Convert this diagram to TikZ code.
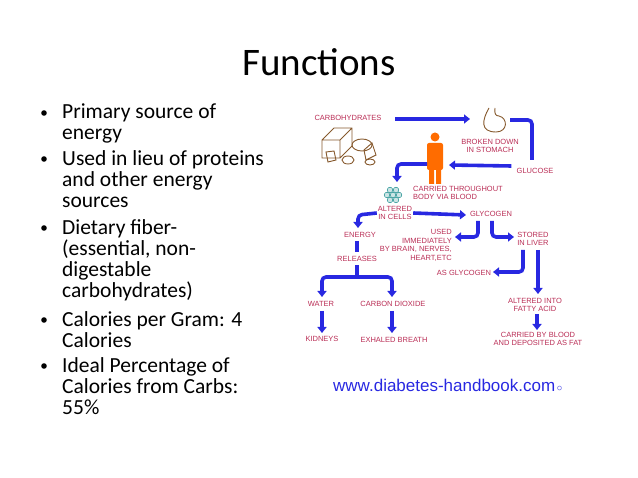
\documentclass[tikz,border=0pt]{standalone}
\usepackage{fontspec}
\setmainfont{Carlito}
\newfontfamily\arial{Liberation Sans}
\usetikzlibrary{arrows.meta}
\definecolor{lab}{RGB}{185,45,85}
\definecolor{arr}{RGB}{40,40,225}
\tikzset{
 lbl/.style={font=\arial\fontsize{7.5}{8.6}\selectfont, text=lab, align=center, inner sep=1pt},
 flow/.style={draw=arr, line width=3.6pt, -{Triangle[length=6pt,width=9pt]}, rounded corners=4pt},
 bar/.style={draw=arr, line width=3.6pt, rounded corners=4pt},
 bul/.style={font=\fontsize{21.5}{21}\selectfont, align=left, inner sep=0pt},
}
\begin{document}
\begin{tikzpicture}[x=1pt,y=-1pt]
\useasboundingbox (0,0) rectangle (638,478);
\node[font=\fontsize{39}{44}\selectfont] (title) at (319,62) {Functions};
\foreach \y/\t in {113/{Primary source of\\energy},159/{Used in lieu of proteins\\and other energy\\sources},228/{Dietary fiber-\\(essential, non-\\digestable\\carbohydrates)},320/{Calories per Gram: 4\\Calories},366/{Ideal Percentage of\\Calories from Carbs:\\55\%}}{
 \node[bul, anchor=north west] at (62,\y-9) {\t};
 \fill (44,\y) circle (2.8);
}
% pictures
\begin{scope}[draw=brown!70!black, line width=0.9pt]
\draw (322,140) -- (334,128) -- (352,128) -- (352,146) -- (340,158) -- (322,158) -- cycle (322,140) -- (340,140) -- (352,128) (340,140) -- (340,158);
\draw (362,145) ellipse (10 and 6); \draw (364,150) -- (372,143) -- (376,155) -- (366,160)--cycle;
\draw (326,152) -- (334,151) -- (336,160) -- (328,162) -- cycle; \draw (348,160) ellipse (6 and 4); \draw (370,162) ellipse (5 and 3);
\draw (489,108) .. controls (482,120) and (480,132) .. (496,132) .. controls (508,132) and (508,118) .. (499,116) .. controls (496,116) and (494,114) .. (495,108);
\end{scope}
\fill[orange!85!red] (435,137) circle (4.5);
\fill[orange!85!red, rounded corners=2pt] (427,143) rectangle (443,170);
\fill[orange!85!red] (429,168) rectangle (434,184) (436,168) rectangle (441,184);
\foreach \dx/\dy in {0/0,6/0,-6/0,3/5,-3/5,3/-5,-3/-5}
  \draw[teal, fill=teal!20] (393+\dx,195+\dy) circle (2.8);
% labels
\node[lbl] (carb) at (348,118) {CARBOHYDRATES};
\coordinate (stom) at (490,122);
\node[lbl] (broken) at (490,146) {BROKEN DOWN\\IN STOMACH};
\node[lbl] (glucose) at (535,171) {GLUCOSE};
\coordinate (person) at (435,163);
\node[lbl, align=left, anchor=west] (carried) at (412,193) {CARRIED THROUGHOUT\\BODY VIA BLOOD};
\node[lbl] (altered) at (395,213) {ALTERED\\IN CELLS};
\node[lbl] (glyc) at (491,214) {GLYCOGEN};
\node[lbl] (energy) at (360,235) {ENERGY};
\node[lbl] (releases) at (357,259) {RELEASES};
\node[lbl, align=right, anchor=north east] (used) at (453,228) {USED\\IMMEDIATELY\\BY BRAIN, NERVES,\\HEART,ETC};
\node[lbl] (liver) at (533,239) {STORED\\IN LIVER};
\node[lbl] (asgly) at (464,273) {AS GLYCOGEN};
\node[lbl] (water) at (321,304) {WATER};
\node[lbl] (co2) at (393,304) {CARBON DIOXIDE};
\node[lbl] (fatty) at (535,305) {ALTERED INTO\\FATTY ACID};
\node[lbl] (kid) at (322,339) {KIDNEYS};
\node[lbl] (exh) at (394,340) {EXHALED BREATH};
\node[lbl] (dep) at (538,339) {CARRIED BY BLOOD\\AND DEPOSITED AS FAT};
\node[font=\arial\fontsize{17}{19}\selectfont, text=arr, anchor=west, inner sep=0pt] (url) at (333,385) {www.diabetes-handbook.com};
\draw[arr!60, line width=0.6pt] (url.east) ++(4,3) circle (2);
% arrows
\draw[flow] (395,119) -- (470,119);
\draw[bar] (510,120) -- (532,120) -- (532,160);
\draw[flow] (glucose.west) ++(-4,-5) -- (449,165);
\draw[flow] (427,164) -- (397,164) -- (397,182);
\draw[flow] (altered.east) -- (466,215);
\draw[flow] (altered.west) -- (358,215) -- (358,228);
\draw[bar] (357,241) -- (357,252) (357,265) -- (357,277);
\draw[flow] (357,277) -- (322,277) -- (322,297);
\draw[flow] (357,277) -- (392,277) -- (392,297);
\draw[flow] (322,311) -- (322,333);
\draw[flow] (392,311) -- (392,333);
\draw[flow] (478,221) -- (478,237) -- (455,237);
\draw[flow] (492,221) -- (492,237) -- (514,237);
\draw[flow] (523,250) -- (523,272) -- (493,272);
\draw[flow] (538,250) -- (538,294);
\draw[flow] (537,314) -- (537,330);
\end{tikzpicture}
\end{document}
